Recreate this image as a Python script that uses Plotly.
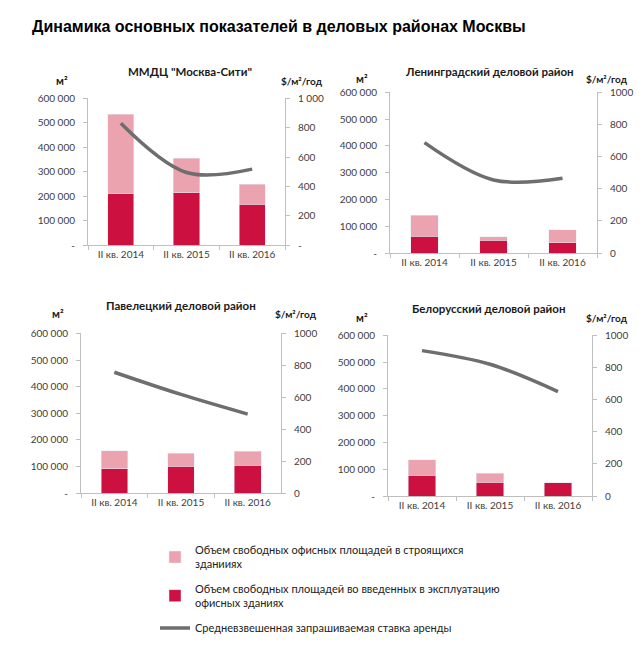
import plotly.graph_objects as go
from plotly.subplots import make_subplots

# Data
quarters = ["II кв. 2014", "II кв. 2015", "II кв. 2016"]
districts = ['ММДЦ "Москва-Сити"', "Ленинградский деловой район",
             "Павелецкий деловой район", "Белорусский деловой район"]

built_city = [210000, 215000, 167000]
construct_city = [325000, 140000, 83000]
rate_city = [830, 495, 518]

built_len = [63000, 48000, 38000]
construct_len = [79000, 13000, 50000]
rate_len = [687, 455, 466]

built_pav = [92000, 100000, 105000]
construct_pav = [68000, 50000, 52000]
rate_pav = [757, 618, 495]

built_bel = [77000, 52000, 49000]
construct_bel = [59000, 33000, 0]
rate_bel = [905, 820, 650]

left_ticks = [0, 100000, 200000, 300000, 400000, 500000, 600000]
left_labels = ["-", "100 000", "200 000", "300 000", "400 000", "500 000", "600 000"]
right_ticks = [0, 200, 400, 600, 800, 1000]
right_labels_city = ["-", "200", "400", "600", "800", "1 000"]
right_labels = ["0", "200", "400", "600", "800", "1000"]

legend_names = ["Объем свободных офисных площадей в строящихся<br>зданииях",
                "Объем свободных площадей во введенных в эксплуатацию<br>офисных зданиях",
                "Средневзвешенная запрашиваемая ставка аренды"]

DARK = "#CC1040"
PINK = "#EBA3B0"
GREY = "#6E6E6E"
# page body keeps an 8px margin, so the figure is a bit smaller than the window
OFF = 8
W, H = 643 - 2 * OFF, 658 - 2 * OFF


def px(x):
    return (x - OFF) / W


def py(y):
    return 1 - (y - OFF) / H


fig = make_subplots(rows=2, cols=2, specs=[[{"secondary_y": True}] * 2] * 2)

panels = [
    (1, 1, built_city, construct_city, rate_city, right_labels_city),
    (1, 2, built_len, construct_len, rate_len, right_labels),
    (2, 1, built_pav, construct_pav, rate_pav, right_labels),
    (2, 2, built_bel, construct_bel, rate_bel, right_labels),
]

for i, (r, c, built, constr, rate, rlab) in enumerate(panels):
    first = i == 0
    fig.add_trace(go.Bar(x=quarters, y=built, marker_color=DARK, width=0.4,
                         name=legend_names[1], legendgroup="built", legendrank=2,
                         showlegend=first),
                  row=r, col=c, secondary_y=False)
    fig.add_trace(go.Bar(x=quarters, y=constr, marker_color=PINK, width=0.4,
                         name=legend_names[0], legendgroup="constr", legendrank=1,
                         showlegend=first),
                  row=r, col=c, secondary_y=False)
    fig.add_trace(go.Scatter(x=quarters, y=rate, mode="lines",
                             line=dict(color=GREY, width=3.5, shape="spline", smoothing=1),
                             name=legend_names[2], legendgroup="rate", legendrank=3,
                             showlegend=first),
                  row=r, col=c, secondary_y=True)
    fig.update_yaxes(range=[0, 600000], tickvals=left_ticks, ticktext=left_labels,
                     row=r, col=c, secondary_y=False)
    fig.update_yaxes(range=[0, 1000], tickvals=right_ticks, ticktext=rlab,
                     row=r, col=c, secondary_y=True)

tick_font = dict(family="Lato", size=10, color="#404040")
fig.update_yaxes(showgrid=False, zeroline=False, showline=True, linecolor="#BFBFBF",
                 ticks="outside", ticklen=4, tickcolor="#BFBFBF", tickfont=tick_font,
                 ticklabelstandoff=6)
fig.update_xaxes(showgrid=False, zeroline=False, showline=True, linecolor="#BFBFBF",
                 ticks="outside", ticklen=4, tickcolor="#BFBFBF", tickson="boundaries",
                 tickfont=tick_font)

# panel placement (window pixels)
boxes = [(88, 285, 93, 243), (390, 597, 87, 251), (81, 281, 333, 496), (388, 592, 335, 499)]
for i, (x0, x1, y0, y1) in enumerate(boxes):
    n = "" if i == 0 else str(i + 1)
    ly = "" if i == 0 else str(2 * i + 1)
    ry = str(2 * i + 2)
    fig.layout["xaxis" + n].domain = [px(x0), px(x1)]
    fig.layout["yaxis" + ly].domain = [py(y1), py(y0)]
    fig.layout["yaxis" + ry].domain = [py(y1), py(y0)]

titles_pos = [(190, 66), (489, 66), (181, 305), (488, 308)]
unit_pos = [((62, 75), (302, 75)), ((362, 73), (607, 73)),
            ((58, 313), (296, 313)), ((362, 317), (607, 317))]
annotations = []
for name, (tx, ty), ((lx, lyy), (rx, ry)) in zip(districts, titles_pos, unit_pos):
    annotations.append(dict(text="<b>%s</b>" % name, x=px(tx), y=py(ty), xref="paper",
                            yref="paper", showarrow=False, xanchor="center", yanchor="middle",
                            font=dict(family="Lato", size=11.5, color="#1a1a1a")))
    annotations.append(dict(text="<b>м²</b>", x=px(lx), y=py(lyy), xref="paper",
                            yref="paper", showarrow=False, xanchor="center", yanchor="middle",
                            font=dict(family="Lato", size=11, color="#1a1a1a")))
    annotations.append(dict(text="<b>$/м²/год</b>", x=px(rx), y=py(ry), xref="paper",
                            yref="paper", showarrow=False, xanchor="center", yanchor="middle",
                            font=dict(family="Lato", size=10, color="#1a1a1a")))
annotations.append(dict(text="<b>Динамика основных показателей в деловых районах Москвы</b>",
                        x=px(30), y=py(20), xref="paper", yref="paper", showarrow=False,
                        xanchor="left", yanchor="middle",
                        font=dict(family="Liberation Sans", size=16, color="#000000")))

fig.update_layout(
    width=W, height=H,
    margin=dict(l=0, r=0, t=0, b=0),
    barmode="stack",
    plot_bgcolor="white", paper_bgcolor="white",
    annotations=annotations,
    legend=dict(x=px(155), y=py(540), xanchor="left", yanchor="top",
                traceorder="grouped", tracegroupgap=7,
                font=dict(family="Lato", size=11, color="#222222")),
)

fig.write_html("out.html")
